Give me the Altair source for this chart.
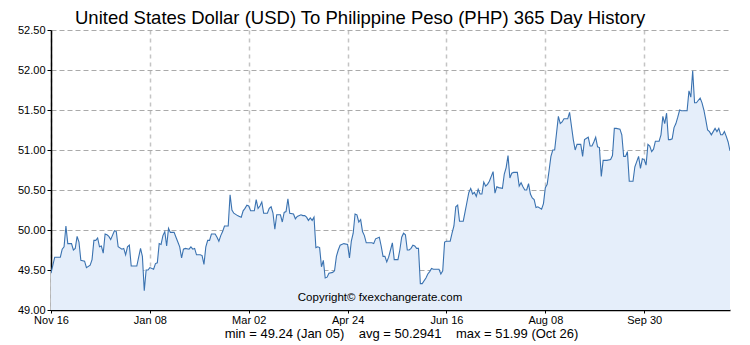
import altair as alt
import pandas as pd

# days after Nov 16 (start of the 365 day window) and the USD/PHP rate read at each
days = [0, 1, 2, 5, 6, 7, 8, 9, 11, 12, 13, 14, 15, 16, 18, 19, 21, 22, 23, 24, 25, 26, 27, 28, 29, 30,
        31, 32, 34, 35, 36, 38, 39, 40, 41, 42, 43, 44, 46, 47, 48, 49, 50, 51, 52, 53, 55, 56, 57, 58,
        59, 60, 61, 62, 63, 64, 66, 67, 68, 69, 70, 71, 72, 74, 75, 76, 77, 78, 80, 81, 82, 83, 84, 85,
        86, 88, 89, 90, 91, 92, 93, 95, 96, 97, 98, 100, 101, 102, 103, 104, 105, 106, 107, 109, 110, 111,
        112, 113, 114, 116, 117, 118, 119, 120, 121, 123, 124, 125, 126, 127, 128, 130, 131, 132, 134, 135,
        136, 137, 138, 139, 140, 141, 142, 143, 144, 145, 146, 147, 148, 149, 151, 152, 153, 154, 155, 157,
        159, 160, 161, 162, 163, 164, 165, 166, 167, 168, 169, 171, 172, 173, 174, 176, 177, 178, 179, 180,
        181, 182, 183, 184, 186, 187, 188, 189, 190, 191, 192, 193, 194, 195, 196, 197, 198, 199, 201, 202,
        203, 204, 205, 207, 208, 209, 210, 211, 212, 214, 215, 216, 217, 218, 219, 220, 221, 222, 223, 224,
        225, 226, 227, 228, 229, 230, 231, 232, 233, 234, 235, 237, 238, 239, 240, 242, 243, 244, 245, 246,
        247, 248, 250, 251, 252, 253, 254, 255, 256, 257, 258, 259, 260, 261, 263, 264, 265, 266, 267, 268,
        269, 270, 271, 272, 273, 274, 275, 277, 278, 279, 280, 281, 282, 284, 285, 286, 288, 289, 290, 291,
        292, 293, 294, 295, 296, 297, 298, 300, 301, 302, 303, 305, 306, 307, 308, 309, 310, 311, 312, 313,
        315, 316, 317, 318, 319, 320, 321, 322, 323, 324, 326, 327, 328, 329, 330, 331, 332, 333, 334, 335,
        336, 337, 338, 340, 341, 342, 343, 344, 345, 346, 348, 349, 350, 351, 352, 353, 354, 355, 356, 357,
        358, 359, 360, 361, 362, 363, 364]
rates = [49.46, 49.56, 49.66, 49.66, 49.76, 49.79, 50.05, 49.83, 49.83, 49.75, 49.77, 49.92, 49.85, 49.62,
         49.61, 49.53, 49.56, 49.63, 49.87, 49.87, 49.90, 49.79, 49.80, 49.71, 49.95, 49.94, 49.92, 49.88,
         49.99, 49.98, 49.79, 49.76, 49.77, 49.69, 49.79, 49.81, 49.55, 49.55, 49.55, 49.66, 49.77, 49.67,
         49.24, 49.50, 49.50, 49.53, 49.51, 49.58, 49.59, 49.83, 49.82, 49.93, 49.98, 49.80, 50.02, 49.97,
         49.97, 49.91, 49.85, 49.79, 49.65, 49.76, 49.77, 49.76, 49.79, 49.76, 49.77, 49.69, 49.69, 49.68,
         49.57, 49.79, 49.87, 49.87, 49.95, 49.95, 49.91, 49.86, 49.93, 49.98, 50.05, 50.05, 50.44, 50.25,
         50.21, 50.18, 50.17, 50.16, 50.24, 50.27, 50.31, 50.30, 50.24, 50.24, 50.38, 50.27, 50.30, 50.35,
         50.21, 50.21, 50.27, 50.29, 50.21, 50.01, 50.19, 50.19, 50.10, 50.22, 50.23, 50.39, 50.21, 50.20,
         50.14, 50.17, 50.19, 50.18, 50.18, 50.16, 50.12, 50.15, 50.12, 50.16, 49.78, 49.79, 49.78, 49.54,
         49.62, 49.40, 49.41, 49.46, 49.47, 49.49, 49.67, 49.75, 49.81, 49.83, 49.82, 49.65, 49.86, 49.96,
         50.20, 50.19, 50.10, 50.13, 49.98, 49.93, 49.84, 49.84, 49.84, 49.83, 49.89, 49.91, 49.80, 49.67,
         49.67, 49.60, 49.66, 49.75, 49.84, 49.63, 49.63, 49.75, 49.91, 49.96, 49.94, 49.75, 49.75, 49.77,
         49.81, 49.80, 49.77, 49.77, 49.33, 49.33, 49.40, 49.45, 49.48, 49.52, 49.51, 49.51, 49.51, 49.45,
         49.49, 49.85, 49.86, 49.86, 49.96, 50.05, 50.29, 50.31, 50.11, 50.11, 50.11, 50.23, 50.35, 50.47,
         50.52, 50.45, 50.47, 50.42, 50.51, 50.45, 50.45, 50.60, 50.55, 50.57, 50.61, 50.73, 50.46, 50.54,
         50.53, 50.52, 50.70, 50.78, 50.93, 50.65, 50.71, 50.72, 50.72, 50.55, 50.59, 50.54, 50.50, 50.50,
         50.58, 50.45, 50.40, 50.38, 50.28, 50.29, 50.26, 50.33, 50.53, 50.57, 50.74, 50.92, 51.00, 51.00,
         51.21, 51.42, 51.33, 51.35, 51.39, 51.39, 51.47, 51.30, 51.13, 51.00, 51.07, 51.07, 50.92, 51.13,
         51.16, 51.05, 51.05, 51.10, 51.16, 51.04, 51.03, 50.67, 50.87, 50.87, 50.87, 50.88, 50.93, 51.27,
         51.27, 51.26, 51.19, 50.92, 50.92, 50.98, 50.61, 50.61, 50.61, 50.79, 50.92, 50.77, 50.89, 50.88,
         50.81, 51.07, 51.05, 50.98, 51.01, 51.11, 51.11, 51.19, 51.42, 51.33, 51.46, 51.13, 51.13, 51.14,
         51.28, 51.33, 51.41, 51.50, 51.49, 51.49, 51.49, 51.74, 51.66, 51.99, 51.59, 51.59, 51.65, 51.59,
         51.50, 51.38, 51.25, 51.23, 51.19, 51.23, 51.27, 51.23, 51.27, 51.19, 51.19, 51.23, 51.17, 51.10,
         50.99]

start = "2016-11-16"
tick_dates = ["2016-11-16", "2017-01-08", "2017-03-02", "2017-04-24", "2017-06-16", "2017-08-08", "2017-09-30"]
y_ticks = [49.0, 49.5, 50.0, 50.5, 51.0, 51.5, 52.0, 52.5]
title_text = "United States Dollar (USD) To Philippine Peso (PHP) 365 Day History"
GAP = "\u00a0\u00a0\u00a0\u00a0"
stats_text = "min = 49.24 (Jan 05)" + GAP + "avg = 50.2941" + GAP + "max = 51.99 (Oct 26)"
copyright_text = ["Copyright\u00a9 fxexchangerate.com"]

dates = pd.Timestamp(start) + pd.to_timedelta(days, unit="D")
df = pd.DataFrame({"date": dates.strftime("%Y-%m-%d"), "rate": rates})

FONT = "Liberation Sans, Arial, sans-serif"

def dt(s):
    y, m, d = (int(p) for p in s.split("-"))
    return alt.DateTime(year=y, month=m, date=d, utc=True)

x_enc = alt.X(
    "date:T",
    scale=alt.Scale(type="utc", domain=[dt("2016-11-16"), dt("2017-11-15")]),
    axis=alt.Axis(
        values=[dt(s) for s in tick_dates],
        format="%b %d",
        labelFlush=False,
        title=stats_text,
        titleFont=FONT, titleFontSize=13, titleFontWeight="normal", titleColor="black",
        titlePadding=2, titleX=350,
        labelFont=FONT, labelFontSize=11, labelColor="black", labelPadding=1,
        tickSize=3, tickColor="black", domainColor="black", domainWidth=1.5,
        grid=True, gridColor="#c4c4c4", gridDash=[4, 4], gridWidth=1.5,
    ),
)
y_enc = alt.Y(
    "rate:Q",
    scale=alt.Scale(domain=[49, 52.5], zero=False),
    axis=alt.Axis(
        values=y_ticks, format=".2f", title=None,
        labelFont=FONT, labelFontSize=11, labelColor="black", labelPadding=2,
        tickSize=4, tickColor="black", domainColor="black", domainWidth=1.5,
        grid=True, gridColor="#aaaaaa", gridDash=[5, 3], gridWidth=1,
    ),
)

base = alt.Chart(df)
area = base.mark_area(color="#e5eefa", opacity=1, clip=True).encode(
    x=x_enc, y=y_enc, y2=alt.datum(49)
)
line = base.mark_line(color="#3a72b0", strokeWidth=1.1, clip=True).encode(x=x_enc, y=y_enc)

copy = alt.Chart(pd.DataFrame({"t": copyright_text})).mark_text(
    font=FONT, fontSize=11.5, color="black", align="center", baseline="middle"
).encode(text="t:N", x=alt.value(329), y=alt.value(268))

chart = (
    alt.layer(area, line, copy)
    .properties(
        width=679,
        height=280,
        autosize=alt.AutoSizeParams(type="none"),
        padding={"left": 51, "top": 30, "right": 20, "bottom": 35},
        title=alt.TitleParams(
            title_text, anchor="start", frame="group", dx=24, offset=-3,
            font=FONT, fontSize=18.5, fontWeight="normal", color="black",
        ),
        background="white",
    )
    .configure_view(stroke=None)
)

chart.save("out.html", embed_options={"renderer": "svg", "actions": False})
